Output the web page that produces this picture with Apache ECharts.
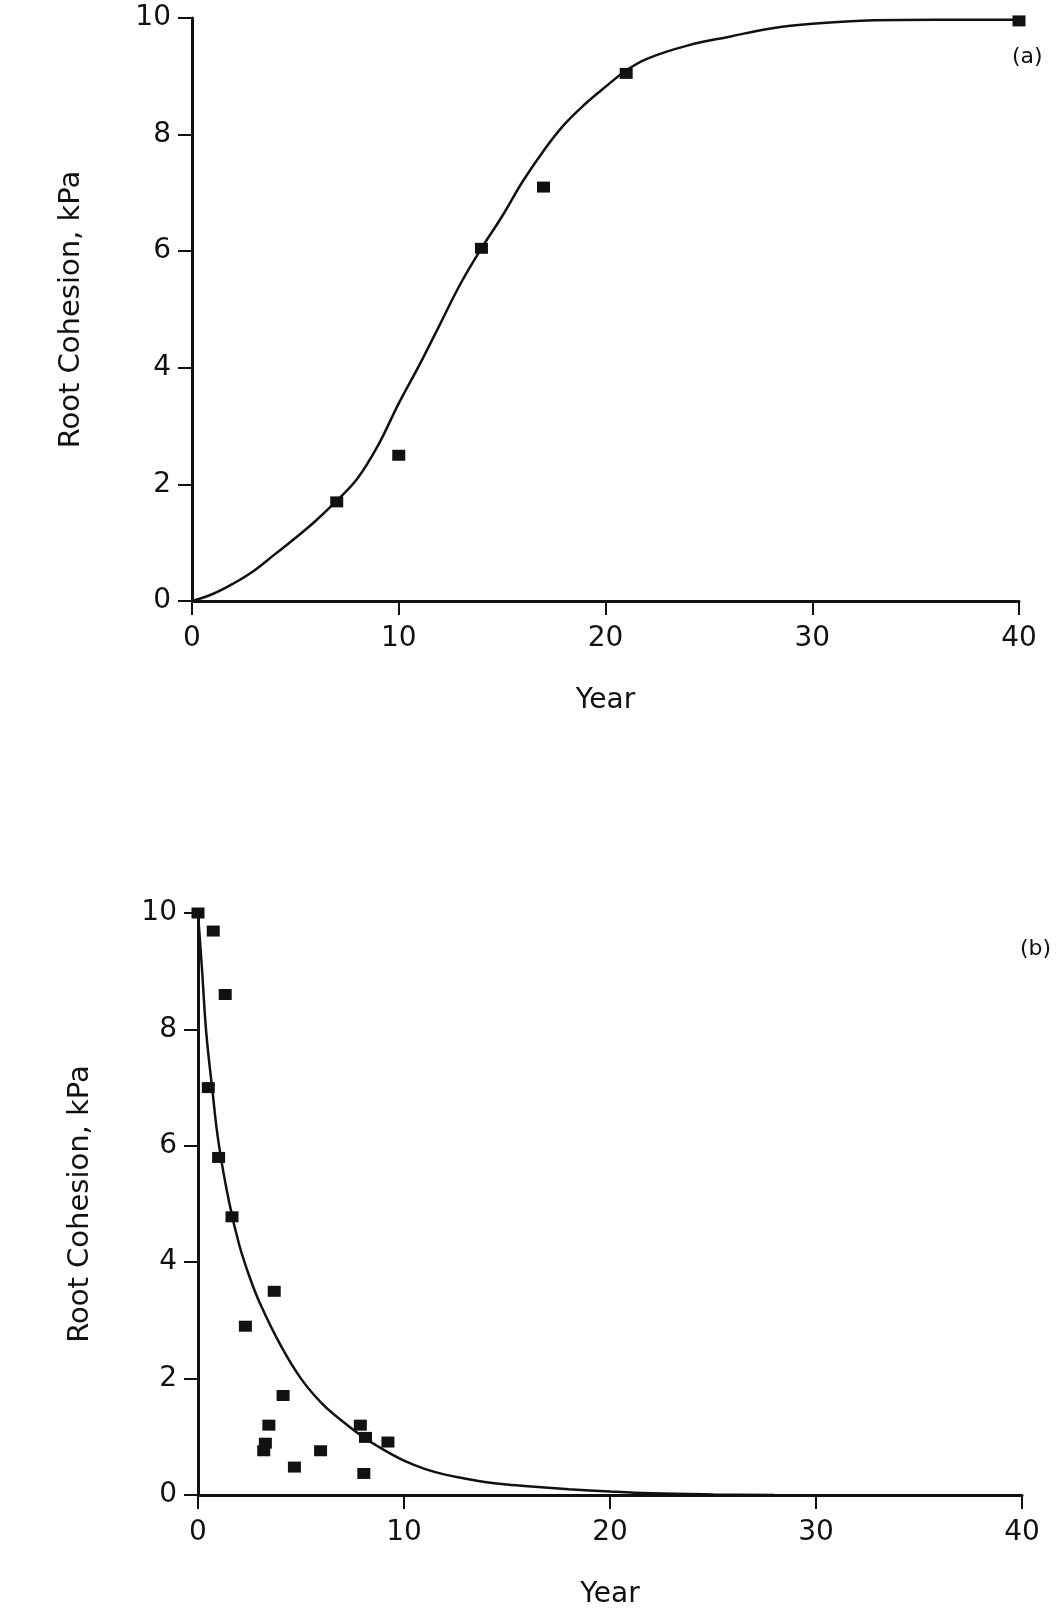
<!DOCTYPE html>
<html>
<head>
<meta charset="utf-8">
<script src="https://cdn.jsdelivr.net/npm/echarts@6/dist/echarts.min.js"></script>
<style>
  html, body { margin: 0; padding: 0; background: #fff; }
  #chart { width: 1062px; height: 1622px; }
</style>
</head>
<body>
<div id="chart"></div>
<script>
// panel (a): fitted growth curve + measured points
var curveAX = [0, 1, 2, 3, 4, 5, 6, 7, 8, 9, 10, 11, 12, 13, 14, 15, 16, 17, 18, 19, 20, 21, 22, 24, 26, 28, 30, 33, 36, 40];
var curveAY = [0, 0.12, 0.3, 0.52, 0.8, 1.08, 1.38, 1.72, 2.1, 2.67, 3.39, 4.05, 4.75, 5.45, 6.05, 6.6, 7.2, 7.72, 8.17, 8.52, 8.82, 9.1, 9.3, 9.53, 9.68, 9.82, 9.9, 9.96, 9.97, 9.97];
var pointsAX = [7, 10, 14, 17, 21, 40];
var pointsAY = [1.7, 2.5, 6.05, 7.1, 9.05, 9.95];

// panel (b): fitted decay curve + measured points
var curveBX = [0, 0.2, 0.4, 0.7, 1, 1.5, 2, 2.5, 3, 4, 5, 6, 7, 8, 9, 10, 11, 12, 13, 14, 15, 16, 18, 20, 22, 25, 28];
var curveBY = [10, 9.0, 7.95, 6.95, 6.05, 5.05, 4.3, 3.75, 3.3, 2.58, 2.0, 1.58, 1.27, 1.0, 0.78, 0.59, 0.45, 0.35, 0.28, 0.22, 0.18, 0.15, 0.1, 0.06, 0.03, 0.01, 0];
var pointsBX = [0, 0.74, 1.32, 0.5, 1.0, 1.65, 2.3, 3.7, 4.13, 3.44, 3.27, 3.19, 4.68, 5.95, 7.88, 8.13, 8.05, 9.22];
var pointsBY = [10, 9.69, 8.6, 7.0, 5.8, 4.78, 2.9, 3.5, 1.71, 1.2, 0.89, 0.76, 0.48, 0.76, 1.2, 0.99, 0.37, 0.91];

var xTicks = [0, 10, 20, 30, 40];
var yTicks = [0, 2, 4, 6, 8, 10];

function pairs(xs, ys) {
  return xs.map(function (x, i) { return [x, ys[i]]; });
}

var font = 'DejaVu Sans';
var black = '#111';

function xAxis(grid) {
  return {
    type: 'value', gridIndex: grid,
    min: xTicks[0], max: xTicks[xTicks.length - 1], interval: 10,
    name: 'Year', nameLocation: 'middle', nameGap: 86,
    nameTextStyle: { fontFamily: font, fontSize: 28, color: black },
    axisLine: { lineStyle: { color: black, width: 3 } },
    axisTick: { show: true, inside: false, length: 14, lineStyle: { color: black, width: 2 } },
    axisLabel: { fontFamily: font, fontSize: 28, color: black, margin: 24 },
    splitLine: { show: false }
  };
}

function yAxis(grid, gap) {
  return {
    type: 'value', gridIndex: grid,
    min: yTicks[0], max: yTicks[yTicks.length - 1], interval: 2,
    name: 'Root Cohesion, kPa', nameLocation: 'middle', nameGap: gap, nameRotate: 90,
    nameTextStyle: { fontFamily: font, fontSize: 29, color: black },
    axisLine: { show: true, lineStyle: { color: black, width: 3 } },
    axisTick: { show: true, inside: false, length: 14, lineStyle: { color: black, width: 2 } },
    axisLabel: { fontFamily: font, fontSize: 28, color: black, margin: 21 },
    splitLine: { show: false }
  };
}

var chart = echarts.init(document.getElementById('chart'), null, { renderer: 'canvas' });
chart.setOption({
  backgroundColor: '#fff',
  animation: false,
  grid: [
    { left: 192, top: 18, width: 827, height: 583 },
    { left: 198, top: 913, width: 824, height: 582 }
  ],
  xAxis: [xAxis(0), xAxis(1)],
  yAxis: [yAxis(0, 106), yAxis(1, 103)],
  graphic: [
    { type: 'text', left: 1012, top: 46, style: { text: '(a)', fontFamily: font, fontSize: 22, fill: black } },
    { type: 'text', left: 1020, top: 938, style: { text: '(b)', fontFamily: font, fontSize: 22, fill: black } }
  ],
  series: [
    {
      type: 'line', xAxisIndex: 0, yAxisIndex: 0,
      data: pairs(curveAX, curveAY), smooth: 0.4,
      showSymbol: false, lineStyle: { color: black, width: 2.5 }
    },
    {
      type: 'scatter', xAxisIndex: 0, yAxisIndex: 0,
      data: pairs(pointsAX, pointsAY), symbol: 'rect', symbolSize: [13, 11],
      itemStyle: { color: black, opacity: 1 }
    },
    {
      type: 'line', xAxisIndex: 1, yAxisIndex: 1,
      data: pairs(curveBX, curveBY), smooth: 0.4,
      showSymbol: false, lineStyle: { color: black, width: 2.5 }
    },
    {
      type: 'scatter', xAxisIndex: 1, yAxisIndex: 1,
      data: pairs(pointsBX, pointsBY), symbol: 'rect', symbolSize: [13, 11],
      itemStyle: { color: black, opacity: 1 }
    }
  ]
});
</script>
</body>
</html>
